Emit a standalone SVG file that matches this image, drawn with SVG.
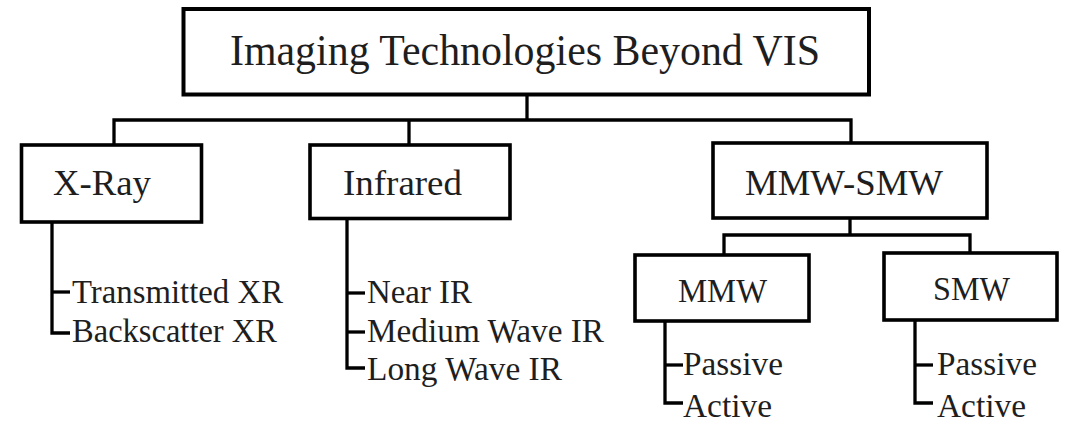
<svg xmlns="http://www.w3.org/2000/svg" width="1065" height="431" viewBox="0 0 1065 431">
<style>
  .box { fill: #ffffff; stroke: #000000; stroke-width: 3.6; }
  .title { stroke-width: 4; }
  .lbl { font-family: "Liberation Serif", "Times New Roman", serif; fill: #1e1e1e; }
  .t1 { font-size: 44px; }
  .t2 { font-size: 36px; }
  .t3 { font-size: 34.5px; }
  .conn path { fill: none; stroke: #000000; stroke-width: 3.3; stroke-linejoin: miter; stroke-linecap: butt; }
</style>
<rect width="1065" height="431" fill="#ffffff"/>
<g id="connectors" class="conn">
  <path d="M527,95 V120"/>
  <path d="M114,145 V120 H851 V143"/>
  <path d="M409,120 V145"/>
  <path d="M850,218 V235"/>
  <path d="M724,255 V235 H970 V253"/>
  <path d="M52,222 V333 H70"/>
  <path d="M52,292 H70"/>
  <path d="M347,218 V368 H365"/>
  <path d="M347,293 H365"/>
  <path d="M347,332 H365"/>
  <path d="M665,321 V403 H683"/>
  <path d="M665,365 H683"/>
  <path d="M915,320 V403 H933"/>
  <path d="M915,365 H933"/>
</g>
<g id="node-root">
  <rect class="box title" x="183.5" y="9" width="685.5" height="85.5"/>
  <text class="lbl t1" x="230" y="65" textLength="590" lengthAdjust="spacingAndGlyphs">Imaging Technologies Beyond VIS</text>
</g>
<g id="node-xray">
  <rect class="box" x="21.5" y="145" width="180" height="77"/>
  <text class="lbl t2" x="53" y="195" textLength="98" lengthAdjust="spacingAndGlyphs">X-Ray</text>
</g>
<g id="node-infrared">
  <rect class="box" x="310" y="145" width="200" height="73.5"/>
  <text class="lbl t2" x="343" y="195" textLength="119" lengthAdjust="spacingAndGlyphs">Infrared</text>
</g>
<g id="node-mmwsmw">
  <rect class="box" x="713" y="143" width="274" height="75"/>
  <text class="lbl t2" x="745" y="195" textLength="198" lengthAdjust="spacingAndGlyphs">MMW-SMW</text>
</g>
<g id="node-mmw">
  <rect class="box" x="635" y="255" width="174" height="66"/>
  <text class="lbl t3" x="678" y="302" textLength="89" lengthAdjust="spacingAndGlyphs">MMW</text>
</g>
<g id="node-smw">
  <rect class="box" x="884" y="253" width="173" height="67"/>
  <text class="lbl t3" x="933" y="300" textLength="77" lengthAdjust="spacingAndGlyphs">SMW</text>
</g>
<g id="leaf-transmitted-xr"><text class="lbl t3" x="72" y="303" textLength="211" lengthAdjust="spacingAndGlyphs">Transmitted XR</text></g>
<g id="leaf-backscatter-xr"><text class="lbl t3" x="72" y="342" textLength="205" lengthAdjust="spacingAndGlyphs">Backscatter XR</text></g>
<g id="leaf-near-ir"><text class="lbl t3" x="367" y="303" textLength="105" lengthAdjust="spacingAndGlyphs">Near IR</text></g>
<g id="leaf-medium-ir"><text class="lbl t3" x="367" y="342" textLength="237" lengthAdjust="spacingAndGlyphs">Medium Wave IR</text></g>
<g id="leaf-long-ir"><text class="lbl t3" x="367" y="380" textLength="195" lengthAdjust="spacingAndGlyphs">Long Wave IR</text></g>
<g id="leaf-mmw-passive"><text class="lbl t3" x="683" y="375" textLength="100" lengthAdjust="spacingAndGlyphs">Passive</text></g>
<g id="leaf-mmw-active"><text class="lbl t3" x="683" y="417" textLength="89" lengthAdjust="spacingAndGlyphs">Active</text></g>
<g id="leaf-smw-passive"><text class="lbl t3" x="937" y="375" textLength="100" lengthAdjust="spacingAndGlyphs">Passive</text></g>
<g id="leaf-smw-active"><text class="lbl t3" x="937" y="417" textLength="89" lengthAdjust="spacingAndGlyphs">Active</text></g>
</svg>
